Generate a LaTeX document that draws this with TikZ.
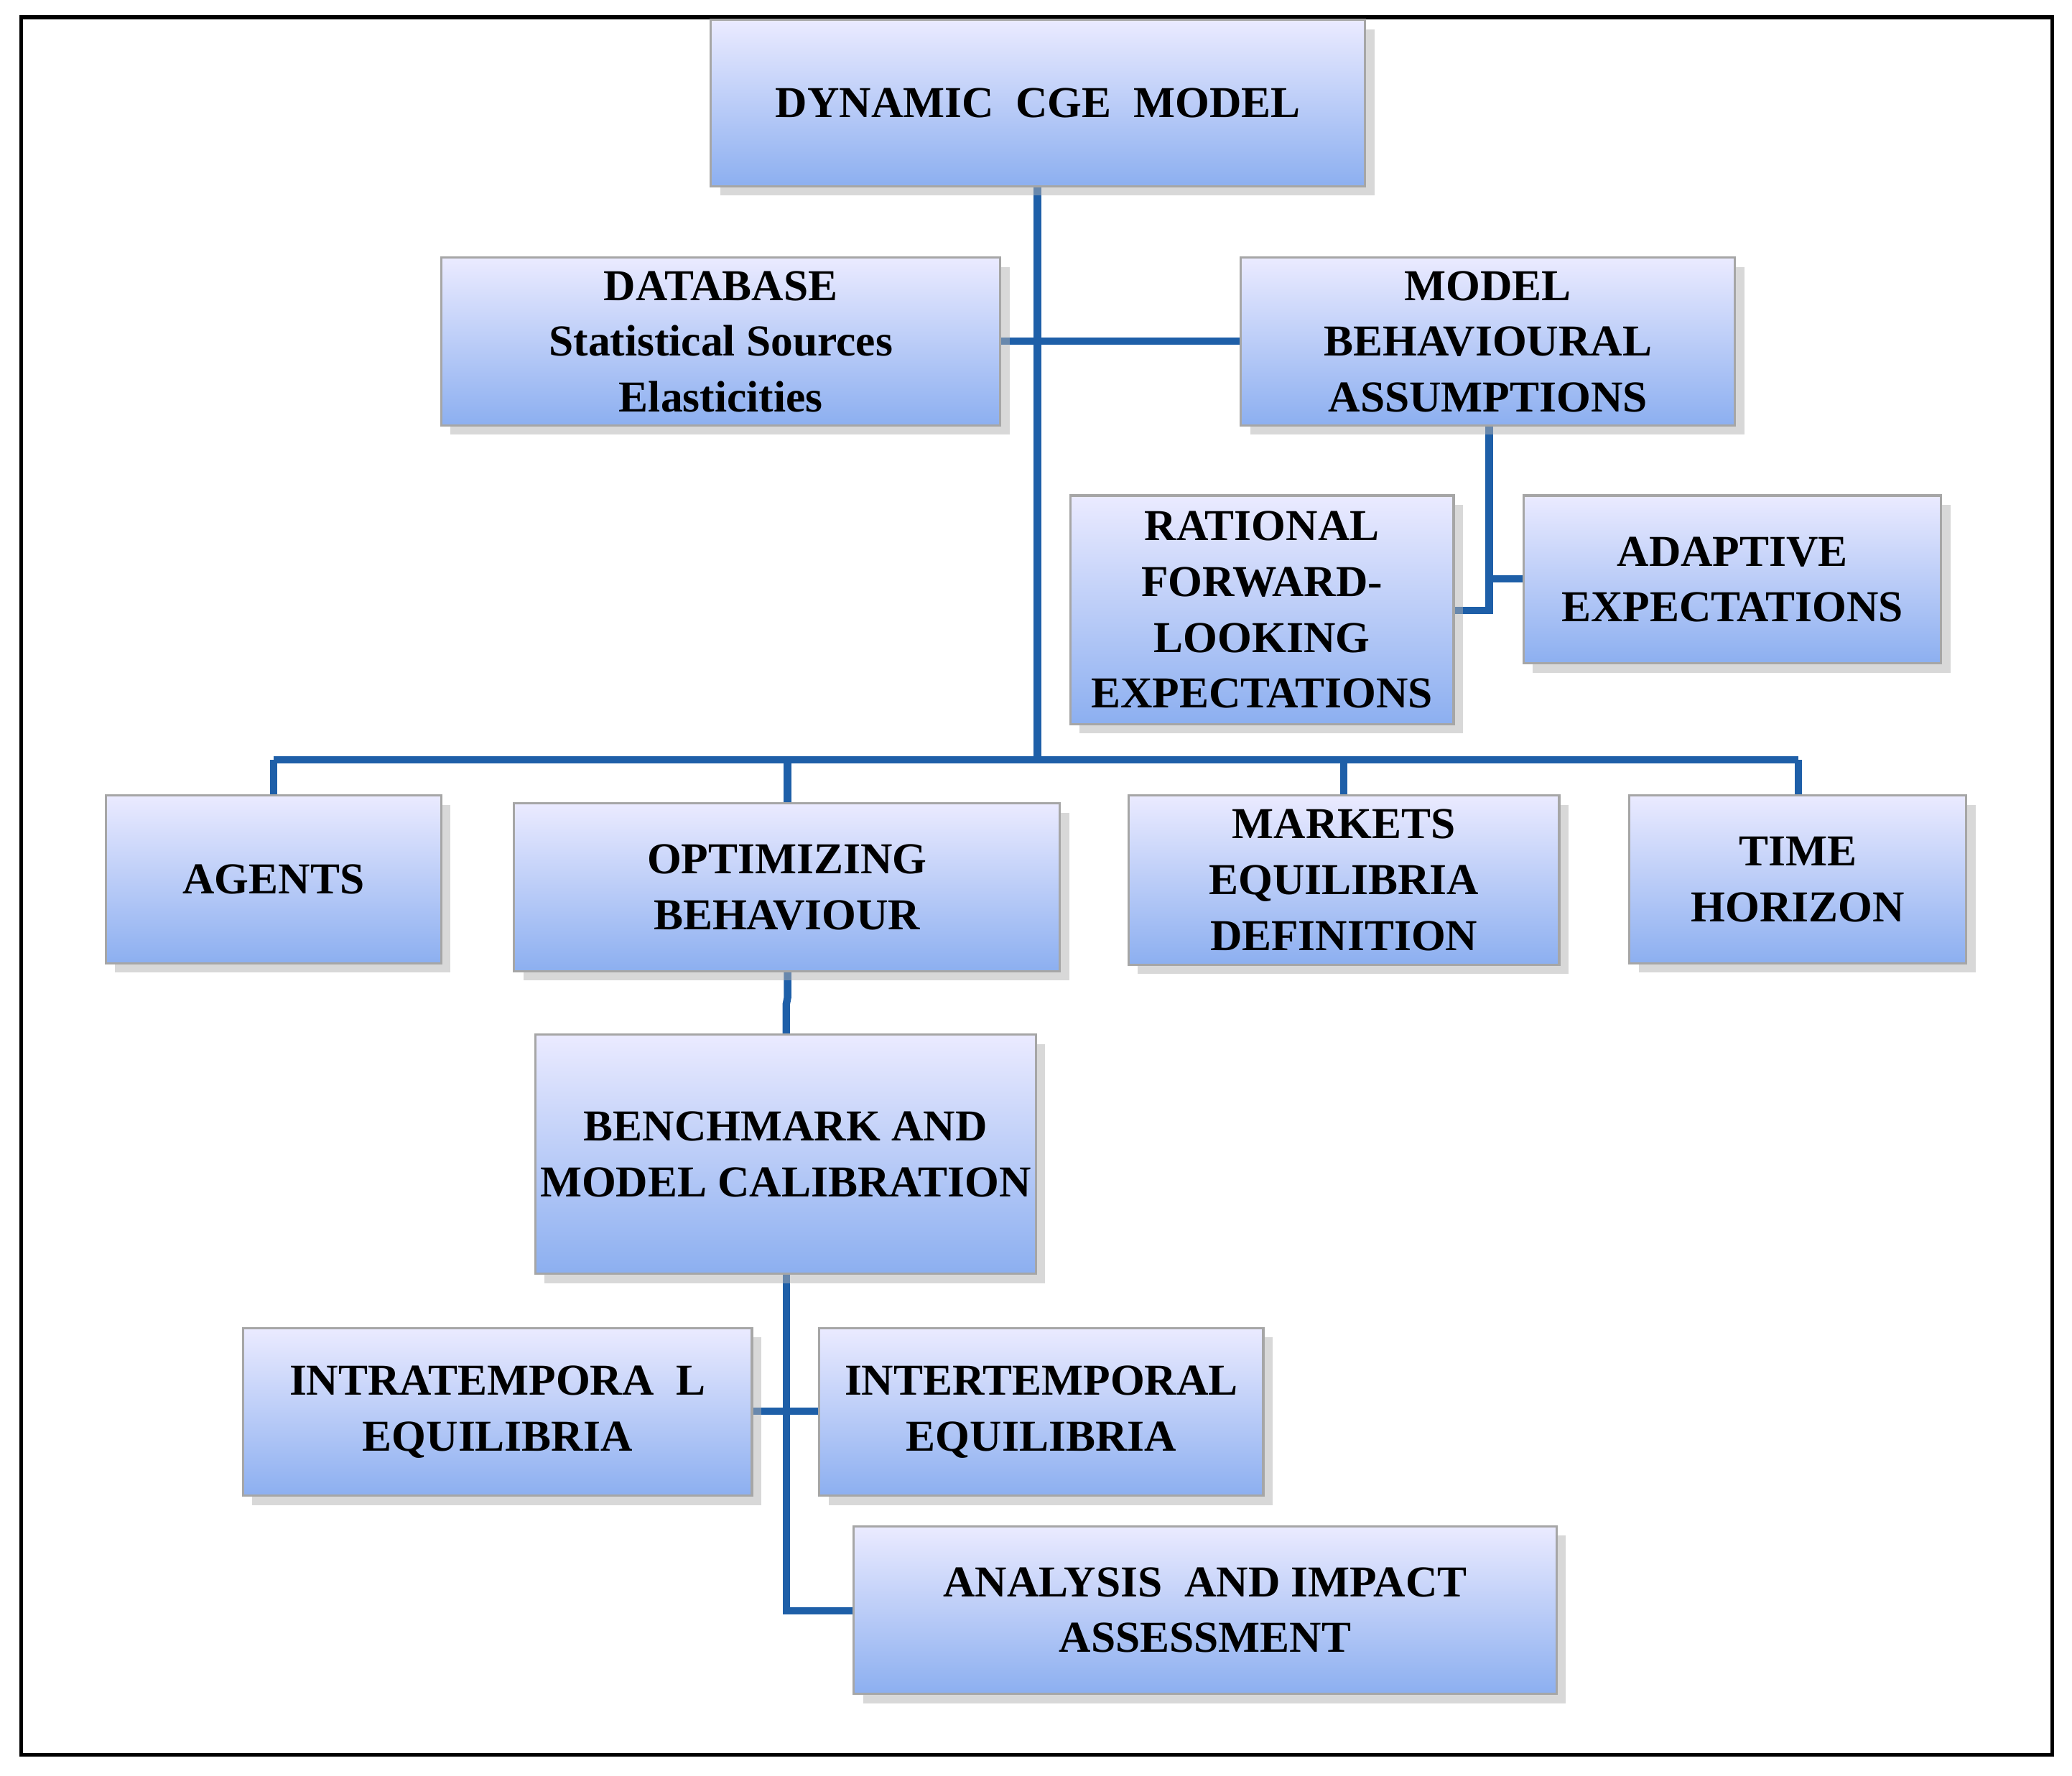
\documentclass[tikz,border=0pt]{standalone}
\usepackage{fontspec}
\setmainfont{Liberation Serif}
\usetikzlibrary{shadows}
\begin{document}
\begin{tikzpicture}[x=0.01cm,y=-0.01cm,
  box/.style={draw=gray!70,line width=0.5pt,top color=blue!8!white,bottom color={rgb,255:red,140;green,175;blue,240},
    drop shadow={shadow xshift=2pt,shadow yshift=-2pt,fill=gray!60},font=\fontsize{9.5}{12}\selectfont\bfseries,align=center},
  ln/.style={draw={rgb,255:red,30;green,95;blue,168},line width=1.6pt}]
\path[use as bounding box] (0,0) rectangle (1568,1344);
\draw[line width=0.8pt] (16,13) rectangle (1553,1328);
\def\bx#1#2#3#4#5#6{\node[box,minimum width={(#4-#2)*0.01cm},minimum height={(#5-#3)*0.01cm},inner sep=1pt] (#1) at ({(#2+#4)/2},{(#3+#5)/2}) {#6};}
\begin{scope}[on background layer/.style={}]
\coordinate (t1) at (785,575);
\coordinate (bl) at (207,575); \coordinate (br) at (1361,575);
\coordinate (m1) at (1127,462); \coordinate (m2) at (1127,438);
\coordinate (a1) at (595,1219); \coordinate (a2) at (595,1068);
\coordinate (j) at (785,258);
\end{scope}
% connectors drawn first
\draw[ln] (785,141) -- (t1);
\draw[ln] (757,258) -- (939,258);
\draw[ln] (1127,322) -- (m1) -- (1100,462);
\draw[ln] (m2) -- (1153,438);
\draw[ln] (bl) -- (br);
\draw[ln] (207,575) -- (207,602);
\draw[ln] (596,575) -- (596,608);
\draw[ln] (1017,575) -- (1017,602);
\draw[ln] (1361,575) -- (1361,602);
\draw[ln] (596,735) -- (596,755) -- (595,760) -- (595,783);
\draw[ln] (595,964) -- (a1) -- (646,1219);
\draw[ln] (569,1068) -- (620,1068);
\bx{dyn}{538}{15}{1033}{141}{DYNAMIC\ \ CGE\ \ MODEL}
\bx{db}{334}{195}{757}{322}{DATABASE\\Statistical Sources\\Elasticities}
\bx{mb}{939}{195}{1313}{322}{MODEL\\BEHAVIOURAL\\ASSUMPTIONS}
\bx{rat}{810}{375}{1100}{548}{RATIONAL\\FORWARD-\\LOOKING\\EXPECTATIONS}
\bx{ada}{1153}{375}{1469}{502}{ADAPTIVE\\EXPECTATIONS}
\bx{ag}{80}{602}{334}{729}{AGENTS}
\bx{opt}{389}{608}{802}{735}{OPTIMIZING\\BEHAVIOUR}
\bx{mk}{854}{602}{1180}{730}{MARKETS\\EQUILIBRIA\\DEFINITION}
\bx{th}{1233}{602}{1488}{729}{TIME\\HORIZON}
\bx{bm}{406}{783}{783}{964}{BENCHMARK AND\\MODEL CALIBRATION}
\bx{intra}{184}{1005}{569}{1132}{INTRATEMPORA\ \ L\\EQUILIBRIA}
\bx{inter}{620}{1005}{956}{1132}{INTERTEMPORAL\\EQUILIBRIA}
\bx{an}{646}{1155}{1178}{1282}{ANALYSIS\ \ AND IMPACT\\ASSESSMENT}
\end{tikzpicture}
\end{document}
